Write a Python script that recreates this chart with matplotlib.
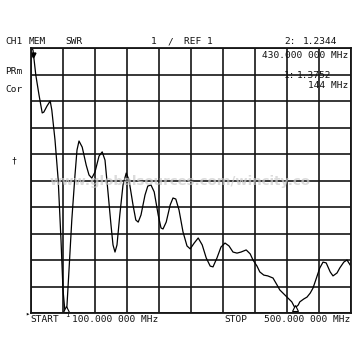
import matplotlib
matplotlib.use("Agg")
import matplotlib.pyplot as plt

# SWR trace: frequency (MHz) and level (grid divisions from REF line)
freq = [101, 102.5, 106, 110, 114, 116, 120, 124, 126, 130, 134, 137.5, 140, 142.5, 144,
        145, 147.5, 151, 155, 157.5, 160, 164, 169, 172.5, 176, 180, 185, 189, 192.5, 196,
        200, 202.5, 205, 207.5, 211, 215, 219, 222.5, 227.5, 231, 234, 237.5, 242.5, 246,
        250, 254, 259, 262.5, 265, 269, 274, 277.5, 281, 285, 290, 295, 299, 304, 309,
        314, 319, 324, 327.5, 332.5, 337.5, 342.5, 347.5, 352.5, 357.5, 362.5, 369, 374,
        377.5, 382.5, 386, 391, 396, 402.5, 407.5, 411, 416, 421, 426, 430, 434, 436,
        441, 445, 449, 452.5, 456, 461, 465, 469, 474, 477.5, 482.5, 486, 491, 495, 499]
level = [10.0, 9.92, 8.98, 8.23, 7.55, 7.58, 7.81, 8.0, 7.66, 6.53, 5.02, 2.75, 0.87, 0.04, 0.0,
         0.30, 1.62, 3.51, 5.21, 6.15, 6.49, 6.26, 5.58, 5.21, 5.09, 5.32, 5.92, 6.08, 5.77, 4.64,
         3.32, 2.57, 2.30, 2.57, 3.70, 4.83, 5.28, 5.02, 4.08, 3.51, 3.43, 3.70, 4.45, 4.79,
         4.83, 4.57, 3.70, 3.21, 3.17, 3.43, 4.08, 4.34, 4.30, 3.89, 3.06, 2.53, 2.42, 2.64, 2.83,
         2.57, 2.08, 1.77, 1.74, 2.08, 2.49, 2.64, 2.53, 2.30, 2.26, 2.30, 2.38, 2.23,
         2.0, 1.77, 1.55, 1.43, 1.40, 1.32, 1.06, 0.87, 0.72, 0.57, 0.42, 0.19, 0.30, 0.42,
         0.53, 0.60, 0.75, 0.94, 1.25, 1.70, 1.92, 1.89, 1.55, 1.40, 1.51, 1.70, 1.92, 2.0, 1.81]

start_mhz = 100
stop_mhz = 500
marker_freq = [144, 430]
marker_level = [0.15, 0.2]

fig = plt.figure(figsize=(3.6, 3.6), dpi=100)
fig.patch.set_facecolor("white")
ax = fig.add_axes([31 / 360, 47 / 360, 320 / 360, 265 / 360])

ax.set_xlim(start_mhz, stop_mhz)
ax.set_ylim(0, 10)
ax.set_xticks(range(start_mhz, stop_mhz + 1, 40))
ax.set_yticks(range(0, 11))
ax.grid(True, color="#151515", linewidth=1.2)
ax.tick_params(length=0, labelbottom=False, labelleft=False)
for s in ax.spines.values():
    s.set_color("#151515")
    s.set_linewidth(1.3)

ax.plot(freq, level, color="black", linewidth=0.9, clip_on=False)
ax.plot(marker_freq, marker_level, linestyle="none", marker="^", markersize=5,
        markerfacecolor="white", markeredgecolor="black", markeredgewidth=0.8)
ax.plot([103], [9.75], marker="v", markersize=3.5, color="black")

mono = dict(family="DejaVu Sans Mono", fontsize=6.8, color="#111111", va="center")


def put(x, y, s, **kw):
    opts = dict(mono)
    opts.update(kw)
    fig.text(x / 360, 1 - y / 360, s, **opts)


# annotation text of the analyzer screen
put(5, 42, "CH1")
put(29, 42, "MEM")
put(65, 42, "SWR")
put(151, 42, "1")
put(168, 42, "/")
put(184, 42, "REF 1")
put(284, 42, "2:")
put(337, 42, "1.2344", ha="right")
put(348, 55, "430.000 000 MHz", ha="right")
put(284, 76, "1:")
put(331, 76, "1.3752", ha="right")
put(348, 86, "144 MHz", ha="right")
put(5, 71, "PRm")
put(5, 89, "Cor")
put(11, 161, "\u2020", fontsize=6)
put(30, 320, "START")
put(72, 320, "100.000 000 MHz")
put(224, 320, "STOP")
put(350, 320, "500.000 000 MHz", ha="right")
put(65, 315, "1", fontsize=5)
put(25, 313, "\u25b8", fontsize=5)

fig.text(180 / 360, 1 - 181 / 360, "www.globalsources.com/wincity.co",
         family="DejaVu Sans", fontsize=9.5, fontweight="bold", color="#cccccc",
         alpha=0.7, ha="center", va="center")

fig.savefig("out.png", dpi=100, facecolor="white")
